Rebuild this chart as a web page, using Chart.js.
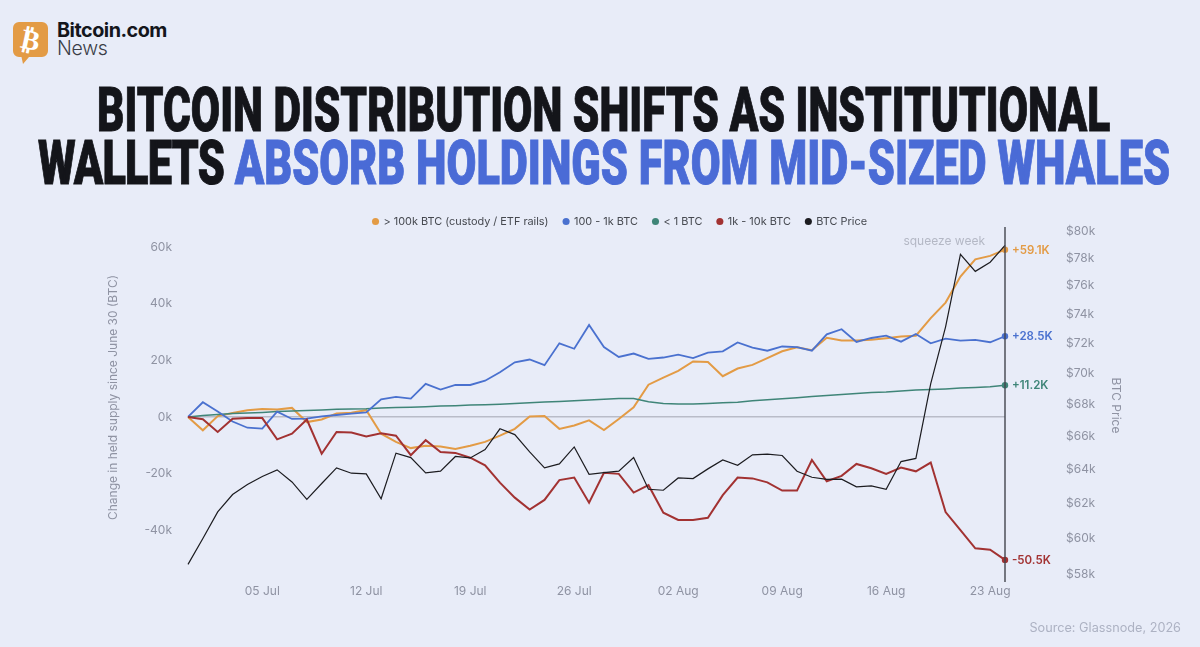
<!DOCTYPE html>
<html>
<head>
<meta charset="utf-8">
<title>Bitcoin distribution shifts</title>
<script src="https://cdn.jsdelivr.net/npm/chart.js@4"></script>
<style>
  html, body { margin: 0; padding: 0; }
  body { width: 1200px; height: 647px; background: #e8ecf8; position: relative; overflow: hidden; font-family: Inter, sans-serif; }
  #logo { position: absolute; left: 13px; top: 22px; }
  .brand { position: absolute; left: 57px; color: #14161c; line-height: 20px; white-space: nowrap; }
  #brand1 { top: 20px; font-size: 19.8px; font-weight: 700; letter-spacing: -0.5px; }
  #brand2 { top: 38px; font-size: 19.5px; font-weight: 300; color: #3a3d47; letter-spacing: -0.3px; }
  .headline { position: absolute; white-space: nowrap; font-family: Roboto, sans-serif; font-weight: 900; font-size: 61px; line-height: 62px; color: #14151a; transform-origin: left top; -webkit-text-stroke: 1px currentColor; }
  .headline b { font-weight: 900; letter-spacing: -1.2px; }
  .headline span { color: #4a6bd6; }
  #source { position: absolute; right: 19px; top: 620px; font-size: 12.7px; color: #adb2c3; }
  #chart { position: absolute; left: 40px; top: 201px; }
</style>
</head>
<body>
<svg id="logo" width="36" height="43" viewBox="0 0 36 43">
  <path d="M6 0H29a6 6 0 0 1 6 6V29a6 6 0 0 1-6 6H16L10 42L8.500 35H6a6 6 0 0 1-6-6V6a6 6 0 0 1 6-6z" fill="#e39b45"/>
  <text x="17.500" y="27.500" font-family="DejaVu Sans" font-weight="700" font-size="28" fill="#fff" text-anchor="middle" transform="rotate(12 17.500 18)">₿</text>
</svg>
<div class="brand" id="brand1">Bitcoin.com</div>
<div class="brand" id="brand2">News</div>
<div class="headline" data-left="97" data-width="1013" style="top:79px">BITCOIN DISTRIBUTION SHIFTS AS INSTITUTIONAL</div>
<div class="headline" data-left="38" data-width="1132" style="top:132px"><b>WALLETS</b> <span>ABSORB HOLDINGS FROM MID-SIZED WHALES</span></div>
<canvas id="chart" width="1160" height="446"></canvas>
<div id="source">Source: Glassnode, 2026</div>

<script>
const dates = [
  '30 Jun', '01 Jul', '02 Jul', '03 Jul', '04 Jul', '05 Jul', '06 Jul', '07 Jul', '08 Jul', '09 Jul',
  '10 Jul', '11 Jul', '12 Jul', '13 Jul', '14 Jul', '15 Jul', '16 Jul', '17 Jul', '18 Jul', '19 Jul',
  '20 Jul', '21 Jul', '22 Jul', '23 Jul', '24 Jul', '25 Jul', '26 Jul', '27 Jul', '28 Jul', '29 Jul',
  '30 Jul', '31 Jul', '01 Aug', '02 Aug', '03 Aug', '04 Aug', '05 Aug', '06 Aug', '07 Aug', '08 Aug',
  '09 Aug', '10 Aug', '11 Aug', '12 Aug', '13 Aug', '14 Aug', '15 Aug', '16 Aug', '17 Aug', '18 Aug',
  '19 Aug', '20 Aug', '21 Aug', '22 Aug', '23 Aug', '24 Aug'
];
const xTickLabels = ['05 Jul', '12 Jul', '19 Jul', '26 Jul', '02 Aug', '09 Aug', '16 Aug', '23 Aug'];
const supplyTicks = [60000, 40000, 20000, 0, -20000, -40000];
const priceTicks = [80000, 78000, 76000, 74000, 72000, 70000, 68000, 66000, 64000, 62000, 60000, 58000];

// values in thousands of BTC
const over100k = [
  0, -4.7, 0.3, 1.4, 2.4, 2.8, 2.6, 3.2, -1.8, -0.9,
  1.2, 1.5, 2.4, -5.9, -8.8, -11, -10.2, -10.4, -11.3, -10.2,
  -8.8, -6.6, -4.2, 0.2, 0.3, -4.2, -3, -1.2, -4.6, -0.7,
  3.4, 11.4, 13.9, 16.3, 19.6, 19.4, 14.4, 17.1, 18.4, 20.8,
  23.2, 24.6, 23.6, 28, 27, 27, 27.3, 27.8, 28.4, 28.7,
  34.9, 40.4, 49.6, 55.7, 56.9, 59.1
];
const from100to1k = [
  0, 5.2, 1.9, -1.6, -3.8, -4.1, 1.9, -0.7, -0.6, 0.2,
  0.7, 1.2, 1.6, 6.2, 7.1, 6.5, 11.7, 9.7, 11.3, 11.3,
  12.8, 15.8, 19.3, 20.3, 18.3, 26, 24.1, 32.5, 24.7, 21.2,
  22.4, 20.5, 21, 22, 20.8, 22.7, 23.2, 26.3, 24.5, 23.4,
  24.9, 24.7, 23.4, 29.2, 31, 26.5, 27.9, 28.7, 26.6, 29.3,
  26, 27.7, 27, 27.2, 26.4, 28.5
];
const under1 = [
  0, 0.5, 0.9, 1.2, 1.4, 1.6, 1.9, 2.1, 2.3, 2.5,
  2.7, 2.8, 2.9, 3.2, 3.3, 3.4, 3.6, 3.9, 4, 4.2,
  4.3, 4.5, 4.8, 5, 5.3, 5.5, 5.7, 6, 6.3, 6.5,
  6.5, 5.4, 4.8, 4.6, 4.6, 4.8, 5, 5.2, 5.7, 6.1,
  6.4, 6.8, 7.2, 7.6, 7.9, 8.3, 8.6, 8.8, 9.2, 9.5,
  9.7, 9.9, 10.2, 10.4, 10.7, 11.2
];
const from1kto10k = [
  0, -0.8, -5.3, -0.6, -0.4, -0.4, -7.9, -5.9, -0.9, -13,
  -5.3, -5.5, -6.9, -5.8, -6.6, -13.5, -8.2, -12.4, -12.7, -14.4,
  -17.1, -23.2, -28.5, -32.7, -29.3, -22.3, -21.4, -30.3, -19.7, -20.1,
  -26.7, -24.1, -33.8, -36.4, -36.4, -35.6, -27.6, -21.4, -21.7, -23.1,
  -26, -26, -15.2, -22.7, -20.8, -16.6, -18.1, -20.1, -17.9, -19.2,
  -16.1, -33.6, -40, -46.4, -46.9, -50.5
];
const btcPrice = [
  58530, 59970, 61480, 62490, 63080, 63550, 63950, 63230, 62210, 63140,
  64070, 63750, 63710, 62240, 64960, 64690, 63770, 63870, 64760, 64670,
  65180, 66460, 66100, 65040, 64070, 64310, 65340, 63680, 63790, 63870,
  64690, 62800, 62740, 63470, 63430, 64010, 64550, 64230, 64860, 64900,
  64820, 63870, 63510, 63380, 63400, 62940, 63000, 62800, 64450, 64640,
  69340, 73130, 78270, 77030, 77690, 78930
];
const endLabels = ['+59.1K', '+28.5K', '+11.2K', '-50.5K'];
const endColors = ['#e39b45', '#4a71cf', '#3f8578', '#a23232'];
const noteText = 'squeeze week';
const supplyTitle = 'Change in held supply since June 30 (BTC)';

const last = dates.length - 1;
const inK = arr => arr.map(v => v * 1000);

function lineSet(label, data, color, order, yAxisID, borderWidth) {
  return {
    label, data, order, yAxisID, borderWidth,
    borderColor: color,
    backgroundColor: color,
    pointBackgroundColor: color,
    pointRadius: c => (yAxisID === 'supply' && c.dataIndex === last ? 3.2 : 0),
    pointHoverRadius: 0,
    pointBorderWidth: 0,
    tension: 0,
    clip: false
  };
}

// legend takes a fixed height so the plot starts where it should
const legendHeight = {
  id: 'legendHeight',
  beforeInit(chart) {
    const fit = chart.legend.fit;
    chart.legend.fit = function () {
      fit.call(this);
      this.height = 28;
    };
  }
};

const endMarks = {
  id: 'endMarks',
  afterDatasetsDraw(chart) {
    const ctx = chart.ctx;
    const x = chart.scales.x.getPixelForValue(last);
    ctx.save();
    ctx.strokeStyle = '#42454d';
    ctx.lineWidth = 1.4;
    ctx.beginPath();
    ctx.moveTo(x, chart.chartArea.top - 2);
    ctx.lineTo(x, chart.chartArea.bottom);
    ctx.stroke();

    ctx.font = '600 11.5px Inter';
    ctx.textBaseline = 'middle';
    ctx.textAlign = 'left';
    endLabels.forEach((text, i) => {
      const y = chart.scales.supply.getPixelForValue(chart.data.datasets[i].data[last]);
      ctx.fillStyle = endColors[i];
      ctx.fillText(text, x + 7, y + 0.5);
    });

    ctx.font = '12px Inter';
    ctx.fillStyle = '#b4b8c5';
    ctx.textAlign = 'right';
    ctx.fillText(noteText, x - 20, chart.chartArea.top + 12);

    // left axis title sits a little above the middle of the plot
    ctx.font = '12px Inter';
    ctx.fillStyle = '#8f93a3';
    ctx.textAlign = 'center';
    ctx.translate(chart.chartArea.left - 75, (chart.chartArea.top + chart.chartArea.bottom) / 2 - 8);
    ctx.rotate(-Math.PI / 2);
    ctx.fillText(supplyTitle, 0, 0);
    ctx.restore();
  }
};

// tick padding would otherwise be added above and below the plot
function fixedWidth(width) {
  return axis => {
    axis.width = width;
    axis.paddingTop = 0;
    axis.paddingBottom = 0;
  };
}

Chart.defaults.font.family = 'Inter, sans-serif';
Chart.defaults.font.size = 12;
Chart.defaults.color = '#8f93a3';

new Chart(document.getElementById('chart'), {
  type: 'line',
  data: {
    labels: dates,
    datasets: [
      lineSet('> 100k BTC (custody / ETF rails)', inK(over100k), '#e39b45', 4, 'supply', 2),
      lineSet('100 - 1k BTC', inK(from100to1k), '#4a71cf', 2, 'supply', 1.8),
      lineSet('< 1 BTC', inK(under1), '#3f8578', 3, 'supply', 1.5),
      lineSet('1k - 10k BTC', inK(from1kto10k), '#a23232', 1, 'supply', 2),
      lineSet('BTC Price', btcPrice, '#1c1c20', 0, 'price', 1.2)
    ]
  },
  plugins: [legendHeight, endMarks],
  options: {
    responsive: false,
    animation: false,
    layout: { autoPadding: false, padding: { left: 60, right: 60, top: 0, bottom: 0 } },
    plugins: {
      tooltip: { enabled: false },
      legend: {
        position: 'top',
        labels: {
          usePointStyle: true,
          boxWidth: 5,
          boxHeight: 5,
          padding: 15,
          color: '#45484f',
          font: { size: 10.9 },
          sort: (a, b) => a.datasetIndex - b.datasetIndex
        }
      }
    },
    scales: {
      x: {
        grid: { display: false, drawTicks: false },
        border: { display: false },
        afterBuildTicks: axis => {
          axis.ticks = axis.ticks.filter(t => xTickLabels.includes(dates[t.value]));
        },
        afterFit: axis => { axis.height = 65; },
        ticks: { autoSkip: false, maxRotation: 0, padding: 2 }
      },
      supply: {
        type: 'linear',
        position: 'left',
        min: -58300,
        max: 66400,
        grid: {
          drawTicks: false,
          lineWidth: 1.4,
          color: c => (c.tick.value === 0 ? '#b9bcc8' : 'transparent')
        },
        border: { display: false },
        afterBuildTicks: axis => { axis.ticks = supplyTicks.map(value => ({ value })); },
        afterFit: fixedWidth(88),
        ticks: { padding: 16, callback: v => v / 1000 + 'k' }
      },
      price: {
        type: 'logarithmic',
        position: 'right',
        min: 57570,
        max: 80150,
        grid: { display: false, drawTicks: false },
        border: { display: false },
        title: {
          display: true,
          text: 'BTC Price',
          padding: { top: 17, bottom: 0 }
        },
        afterBuildTicks: axis => { axis.ticks = priceTicks.map(value => ({ value })); },
        afterFit: fixedWidth(135),
        ticks: { padding: 61, autoSkip: false, callback: v => '$' + v / 1000 + 'k' }
      }
    }
  }
});

// stretch the two headline lines to the width they have in the picture
document.fonts.ready.then(() => {
  document.querySelectorAll('.headline').forEach(el => {
    const scale = Number(el.dataset.width) / el.offsetWidth;
    el.style.left = el.dataset.left + 'px';
    el.style.transform = 'scaleX(' + scale + ')';
  });
});
</script>
</body>
</html>
